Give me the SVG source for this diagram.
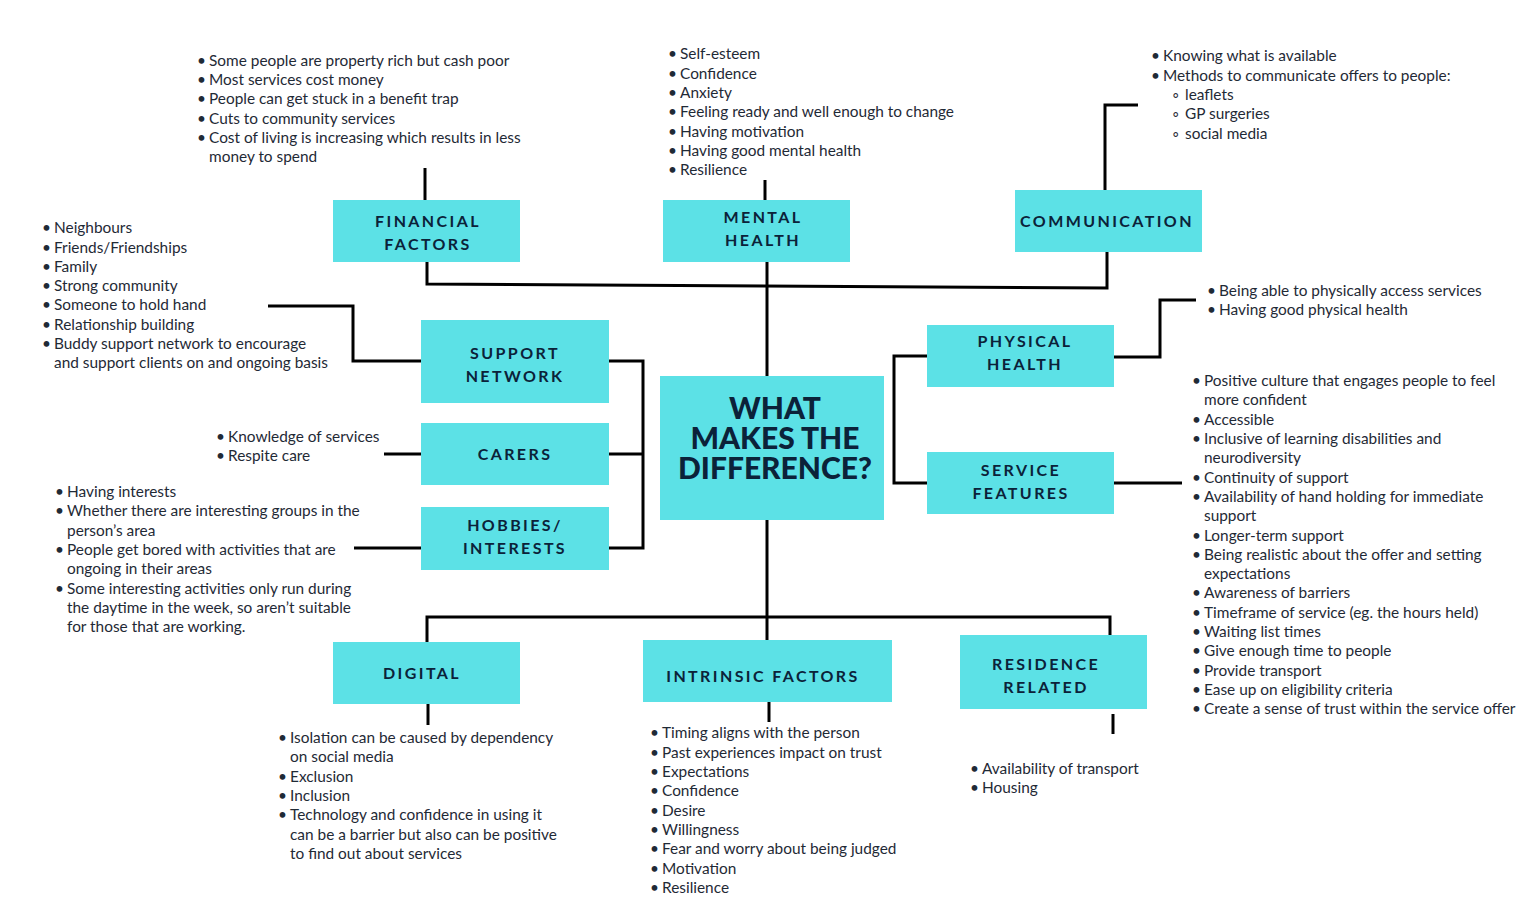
<svg xmlns="http://www.w3.org/2000/svg" width="1536" height="905" viewBox="0 0 1536 905">
<style>
.b{fill:#5ce1e6}
.l{font-family:Lato,"Open Sans",sans-serif;font-weight:bold;font-size:16px;letter-spacing:2.4px;fill:#0b2239;text-anchor:middle}
.h{font-family:Lato,"Open Sans",sans-serif;font-weight:900;font-size:30px;fill:#0b2239;text-anchor:middle}
.t{font-family:Lato,"Open Sans",sans-serif;font-size:15.4px;fill:#1f2a36}
.c line,.c polyline{stroke:#000;stroke-width:3;fill:none}
</style>
<rect width="1536" height="905" fill="#fff"/>
<g class="c" id="connectors">
<line x1="425" y1="168" x2="425" y2="200"/>
<line x1="765" y1="180" x2="765" y2="200"/>
<polyline points="427,262 427,284 1107,288 1107,252"/>
<line x1="767" y1="262" x2="767" y2="376"/>
<polyline points="1105,190 1105,105 1138,105"/>
<polyline points="268,306 353,306 353,361 421,361"/>
<polyline points="609,361 643,361 643,548 602,548"/>
<line x1="609" y1="454" x2="643" y2="454"/>
<line x1="384" y1="454" x2="421" y2="454"/>
<line x1="354" y1="548" x2="421" y2="548"/>
<polyline points="927,356 894,356 894,483 927,483"/>
<polyline points="1114,357 1160,357 1160,300 1196,300"/>
<line x1="1114" y1="483" x2="1182" y2="483"/>
<line x1="767" y1="520" x2="767" y2="640"/>
<polyline points="427,642 427,617 1110,617 1110,640"/>
<line x1="428" y1="704" x2="428" y2="725"/>
<line x1="769" y1="702" x2="769" y2="722"/>
<line x1="1113" y1="714" x2="1113" y2="734"/>
</g>
<g id="financial"><rect class="b" x="333" y="200" width="187" height="62"/><text class="l" x="428" y="227">FINANCIAL</text><text class="l" x="428" y="250">FACTORS</text></g>
<g id="mental"><rect class="b" x="663" y="200" width="187" height="62"/><text class="l" x="763" y="223">MENTAL</text><text class="l" x="763" y="246">HEALTH</text></g>
<g id="communication"><rect class="b" x="1015" y="190" width="187" height="62"/><text class="l" x="1107" y="227">COMMUNICATION</text></g>
<g id="support"><rect class="b" x="421" y="320" width="188" height="83"/><text class="l" x="515" y="359">SUPPORT</text><text class="l" x="515" y="382">NETWORK</text></g>
<g id="carers"><rect class="b" x="421" y="423" width="188" height="62"/><text class="l" x="515" y="460">CARERS</text></g>
<g id="hobbies"><rect class="b" x="421" y="507" width="188" height="63"/><text class="l" x="515" y="531">HOBBIES/</text><text class="l" x="515" y="554">INTERESTS</text></g>
<g id="center"><rect class="b" x="660" y="376" width="224" height="144"/><text class="h" x="775" y="419">WHAT</text><text class="h" x="775" y="449">MAKES THE</text><text class="h" x="775" y="479">DIFFERENCE?</text></g>
<g id="physical"><rect class="b" x="927" y="325" width="187" height="62"/><text class="l" x="1025" y="347">PHYSICAL</text><text class="l" x="1025" y="370">HEALTH</text></g>
<g id="service"><rect class="b" x="927" y="452" width="187" height="62"/><text class="l" x="1021" y="476">SERVICE</text><text class="l" x="1021" y="499">FEATURES</text></g>
<g id="digital"><rect class="b" x="333" y="642" width="187" height="62"/><text class="l" x="422" y="679">DIGITAL</text></g>
<g id="intrinsic"><rect class="b" x="643" y="640" width="249" height="62"/><text class="l" x="763" y="682">INTRINSIC FACTORS</text></g>
<g id="residence"><rect class="b" x="960" y="635" width="187" height="74"/><text class="l" x="1046" y="670">RESIDENCE</text><text class="l" x="1046" y="693">RELATED</text></g>
<g class="t">
<text x="197" y="66">•</text><text x="209" y="66">Some people are property rich but cash poor</text>
<text x="197" y="85">•</text><text x="209" y="85">Most services cost money</text>
<text x="197" y="104">•</text><text x="209" y="104">People can get stuck in a benefit trap</text>
<text x="197" y="124">•</text><text x="209" y="124">Cuts to community services</text>
<text x="197" y="143">•</text><text x="209" y="143">Cost of living is increasing which results in less</text>
<text x="209" y="162">money to spend</text>
<text x="668" y="59">•</text><text x="680" y="59">Self-esteem</text>
<text x="668" y="79">•</text><text x="680" y="79">Confidence</text>
<text x="668" y="98">•</text><text x="680" y="98">Anxiety</text>
<text x="668" y="117">•</text><text x="680" y="117">Feeling ready and well enough to change</text>
<text x="668" y="137">•</text><text x="680" y="137">Having motivation</text>
<text x="668" y="156">•</text><text x="680" y="156">Having good mental health</text>
<text x="668" y="175">•</text><text x="680" y="175">Resilience</text>
<text x="1151" y="61">•</text><text x="1163" y="61">Knowing what is available</text>
<text x="1151" y="81">•</text><text x="1163" y="81">Methods to communicate offers to people:</text>
<text x="1171" y="100">∘</text><text x="1185" y="100">leaflets</text>
<text x="1171" y="119">∘</text><text x="1185" y="119">GP surgeries</text>
<text x="1171" y="139">∘</text><text x="1185" y="139">social media</text>
<text x="42" y="233">•</text><text x="54" y="233">Neighbours</text>
<text x="42" y="253">•</text><text x="54" y="253">Friends/Friendships</text>
<text x="42" y="272">•</text><text x="54" y="272">Family</text>
<text x="42" y="291">•</text><text x="54" y="291">Strong community</text>
<text x="42" y="310">•</text><text x="54" y="310">Someone to hold hand</text>
<text x="42" y="330">•</text><text x="54" y="330">Relationship building</text>
<text x="42" y="349">•</text><text x="54" y="349">Buddy support network to encourage</text>
<text x="54" y="368">and support clients on and ongoing basis</text>
<text x="216" y="442">•</text><text x="228" y="442">Knowledge of services</text>
<text x="216" y="461">•</text><text x="228" y="461">Respite care</text>
<text x="55" y="497">•</text><text x="67" y="497">Having interests</text>
<text x="55" y="516">•</text><text x="67" y="516">Whether there are interesting groups in the</text>
<text x="67" y="536">person’s area</text>
<text x="55" y="555">•</text><text x="67" y="555">People get bored with activities that are</text>
<text x="67" y="574">ongoing in their areas</text>
<text x="55" y="594">•</text><text x="67" y="594">Some interesting activities only run during</text>
<text x="67" y="613">the daytime in the week, so aren’t suitable</text>
<text x="67" y="632">for those that are working.</text>
<text x="1207" y="296">•</text><text x="1219" y="296">Being able to physically access services</text>
<text x="1207" y="315">•</text><text x="1219" y="315">Having good physical health</text>
<text x="1192" y="386">•</text><text x="1204" y="386">Positive culture that engages people to feel</text>
<text x="1204" y="405">more confident</text>
<text x="1192" y="425">•</text><text x="1204" y="425">Accessible</text>
<text x="1192" y="444">•</text><text x="1204" y="444">Inclusive of learning disabilities and</text>
<text x="1204" y="463">neurodiversity</text>
<text x="1192" y="483">•</text><text x="1204" y="483">Continuity of support</text>
<text x="1192" y="502">•</text><text x="1204" y="502">Availability of hand holding for immediate</text>
<text x="1204" y="521">support</text>
<text x="1192" y="541">•</text><text x="1204" y="541">Longer-term support</text>
<text x="1192" y="560">•</text><text x="1204" y="560">Being realistic about the offer and setting</text>
<text x="1204" y="579">expectations</text>
<text x="1192" y="598">•</text><text x="1204" y="598">Awareness of barriers</text>
<text x="1192" y="618">•</text><text x="1204" y="618">Timeframe of service (eg. the hours held)</text>
<text x="1192" y="637">•</text><text x="1204" y="637">Waiting list times</text>
<text x="1192" y="656">•</text><text x="1204" y="656">Give enough time to people</text>
<text x="1192" y="676">•</text><text x="1204" y="676">Provide transport</text>
<text x="1192" y="695">•</text><text x="1204" y="695">Ease up on eligibility criteria</text>
<text x="1192" y="714">•</text><text x="1204" y="714">Create a sense of trust within the service offer</text>
<text x="278" y="743">•</text><text x="290" y="743">Isolation can be caused by dependency</text>
<text x="290" y="762">on social media</text>
<text x="278" y="782">•</text><text x="290" y="782">Exclusion</text>
<text x="278" y="801">•</text><text x="290" y="801">Inclusion</text>
<text x="278" y="820">•</text><text x="290" y="820">Technology and confidence in using it</text>
<text x="290" y="840">can be a barrier but also can be positive</text>
<text x="290" y="859">to find out about services</text>
<text x="650" y="738">•</text><text x="662" y="738">Timing aligns with the person</text>
<text x="650" y="758">•</text><text x="662" y="758">Past experiences impact on trust</text>
<text x="650" y="777">•</text><text x="662" y="777">Expectations</text>
<text x="650" y="796">•</text><text x="662" y="796">Confidence</text>
<text x="650" y="816">•</text><text x="662" y="816">Desire</text>
<text x="650" y="835">•</text><text x="662" y="835">Willingness</text>
<text x="650" y="854">•</text><text x="662" y="854">Fear and worry about being judged</text>
<text x="650" y="874">•</text><text x="662" y="874">Motivation</text>
<text x="650" y="893">•</text><text x="662" y="893">Resilience</text>
<text x="970" y="774">•</text><text x="982" y="774">Availability of transport</text>
<text x="970" y="793">•</text><text x="982" y="793">Housing</text>
</g>
</svg>
